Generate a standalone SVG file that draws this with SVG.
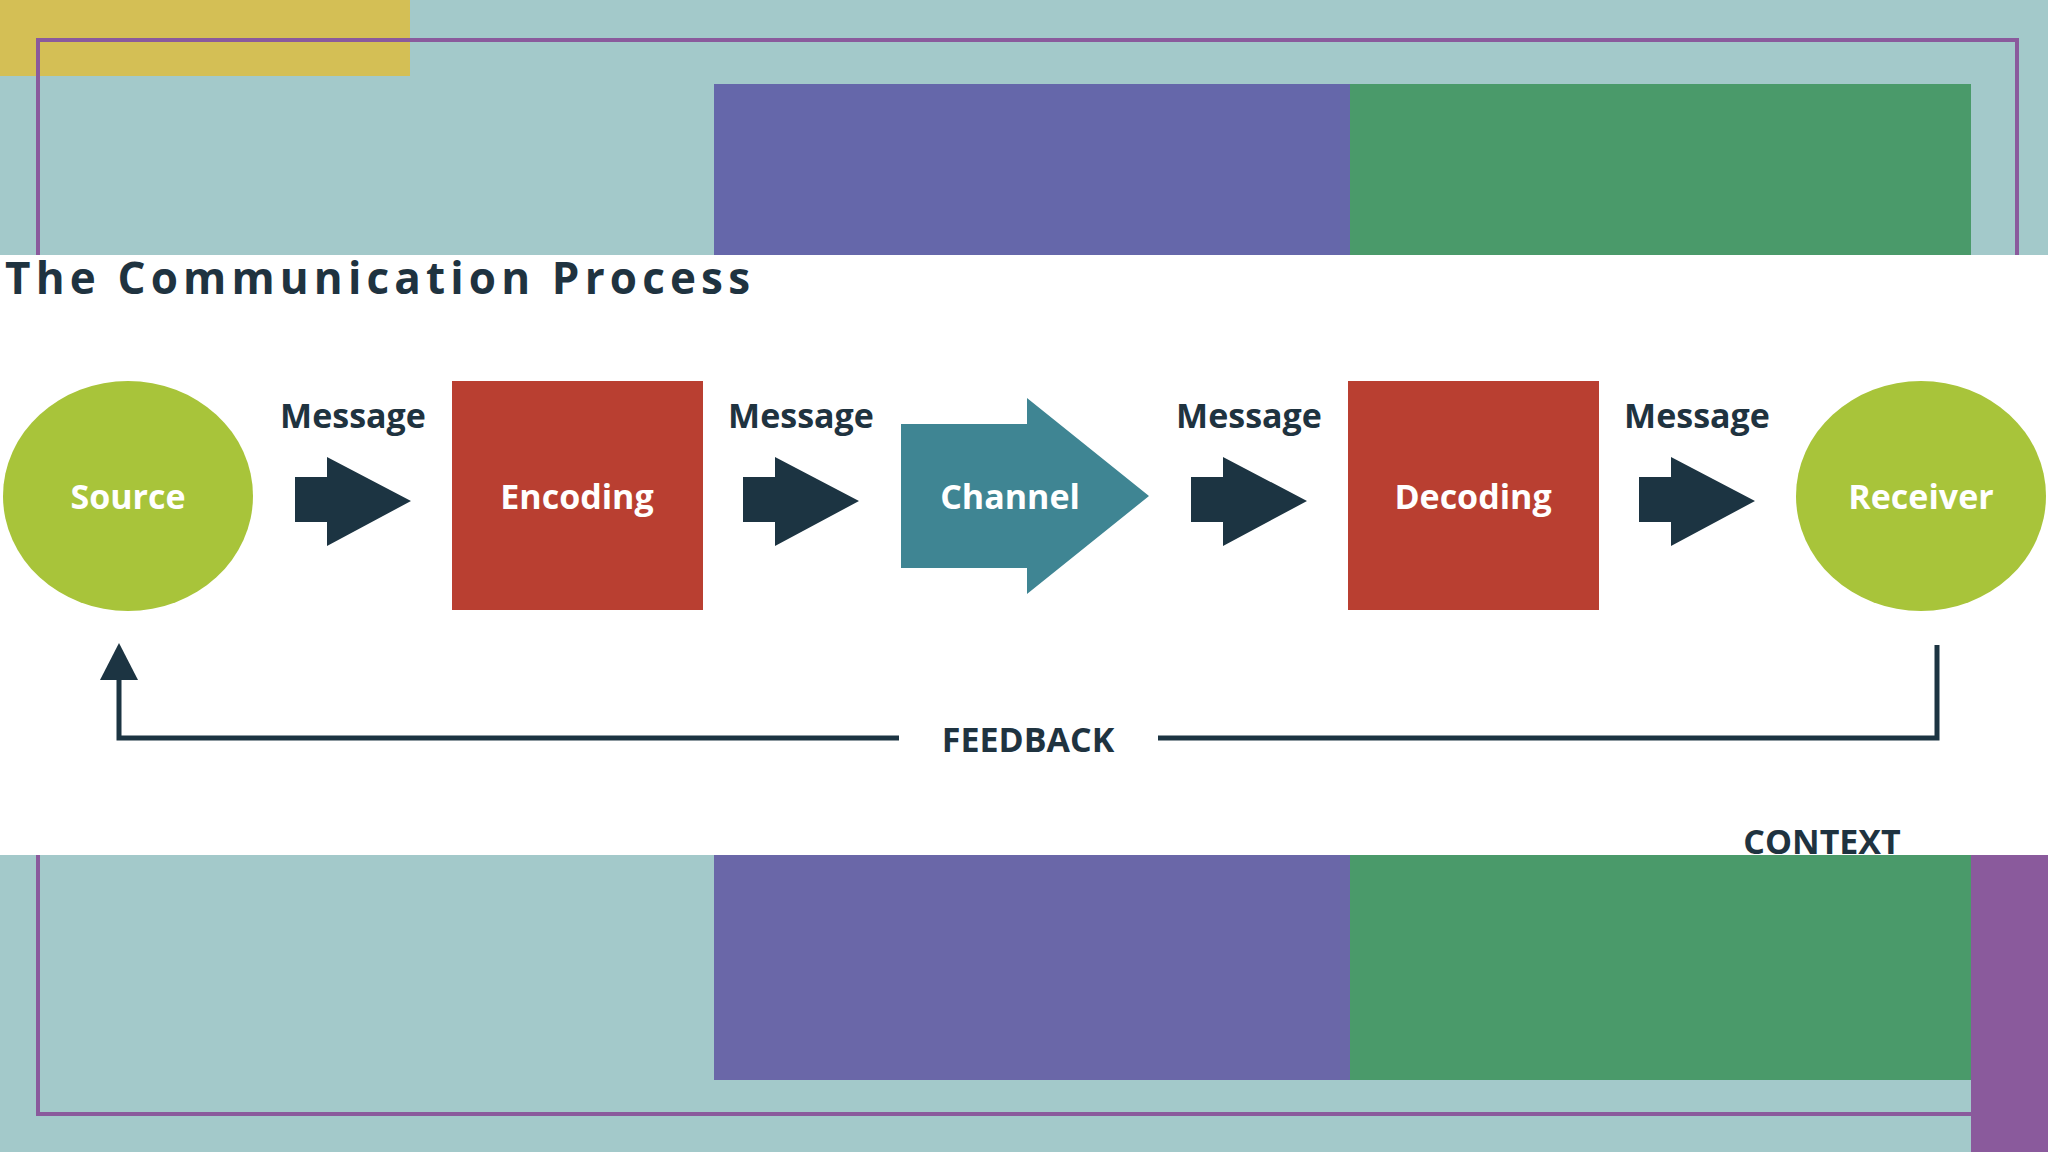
<svg xmlns="http://www.w3.org/2000/svg" width="2048" height="1152" viewBox="0 0 2048 1152">
<style>
text{font-family:"Open Sans","Liberation Sans",sans-serif;font-weight:bold}
.msg{font-size:34px;fill:#1f3340;text-anchor:middle}
.lbl{font-size:34px;fill:#ffffff;text-anchor:middle}
.sa{fill:#1c3442}
</style>
<defs>
<polygon id="sarrow" class="sa" points="295,477 327,477 327,457 411,501 327,546 327,522 295,522"/>
</defs>
<rect width="2048" height="1152" fill="#a3c9ca"/>
<rect x="0" y="0" width="410" height="76" fill="#d4bf55"/>
<rect x="38" y="40" width="1979" height="1074" fill="none" stroke="#8a5a9c" stroke-width="4"/>
<rect x="714" y="84" width="636" height="171" fill="#6567aa"/>
<rect x="1350" y="84" width="621" height="171" fill="#4a9a6a"/>
<rect x="0" y="255" width="2048" height="600" fill="#ffffff"/>
<rect x="714" y="855" width="636" height="225" fill="#6a67a8"/>
<rect x="1350" y="855" width="621" height="225" fill="#4a9a6a"/>
<rect x="1971" y="855" width="77" height="297" fill="#8a5a9c"/>
<text x="5" y="294" font-size="44" fill="#1f3340" textLength="745">The Communication Process</text>
<g id="source"><ellipse cx="128" cy="496" rx="125" ry="115" fill="#a8c43a"/><text class="lbl" x="128" y="509">Source</text></g>
<g id="encoding"><rect x="452" y="381" width="251" height="229" fill="#b93f31"/><text class="lbl" x="577" y="509">Encoding</text></g>
<g id="channel"><polygon points="901,424 1027,424 1027,398 1149,496 1027,594 1027,568 901,568" fill="#3f8593"/><text class="lbl" x="1010" y="509">Channel</text></g>
<g id="decoding"><rect x="1348" y="381" width="251" height="229" fill="#b93f31"/><text class="lbl" x="1473" y="509">Decoding</text></g>
<g id="receiver"><ellipse cx="1921" cy="496" rx="125" ry="115" fill="#a8c43a"/><text class="lbl" x="1921" y="509">Receiver</text></g>
<g id="connectors">
<use href="#sarrow"/>
<use href="#sarrow" x="448"/>
<use href="#sarrow" x="896"/>
<use href="#sarrow" x="1344"/>
<text class="msg" x="353" y="428">Message</text>
<text class="msg" x="801" y="428">Message</text>
<text class="msg" x="1249" y="428">Message</text>
<text class="msg" x="1697" y="428">Message</text>
<polyline points="1937,645 1937,738 1158,738" fill="none" stroke="#1c3442" stroke-width="5"/>
<polyline points="899,738 119,738 119,670" fill="none" stroke="#1c3442" stroke-width="5"/>
<polygon points="119,643 138,680 100,680" fill="#1c3442"/>
<text class="msg" x="1028" y="752">FEEDBACK</text>
</g>
<text x="1822" y="854" font-size="34" fill="#1f3340" text-anchor="middle">CONTEXT</text>
</svg>
